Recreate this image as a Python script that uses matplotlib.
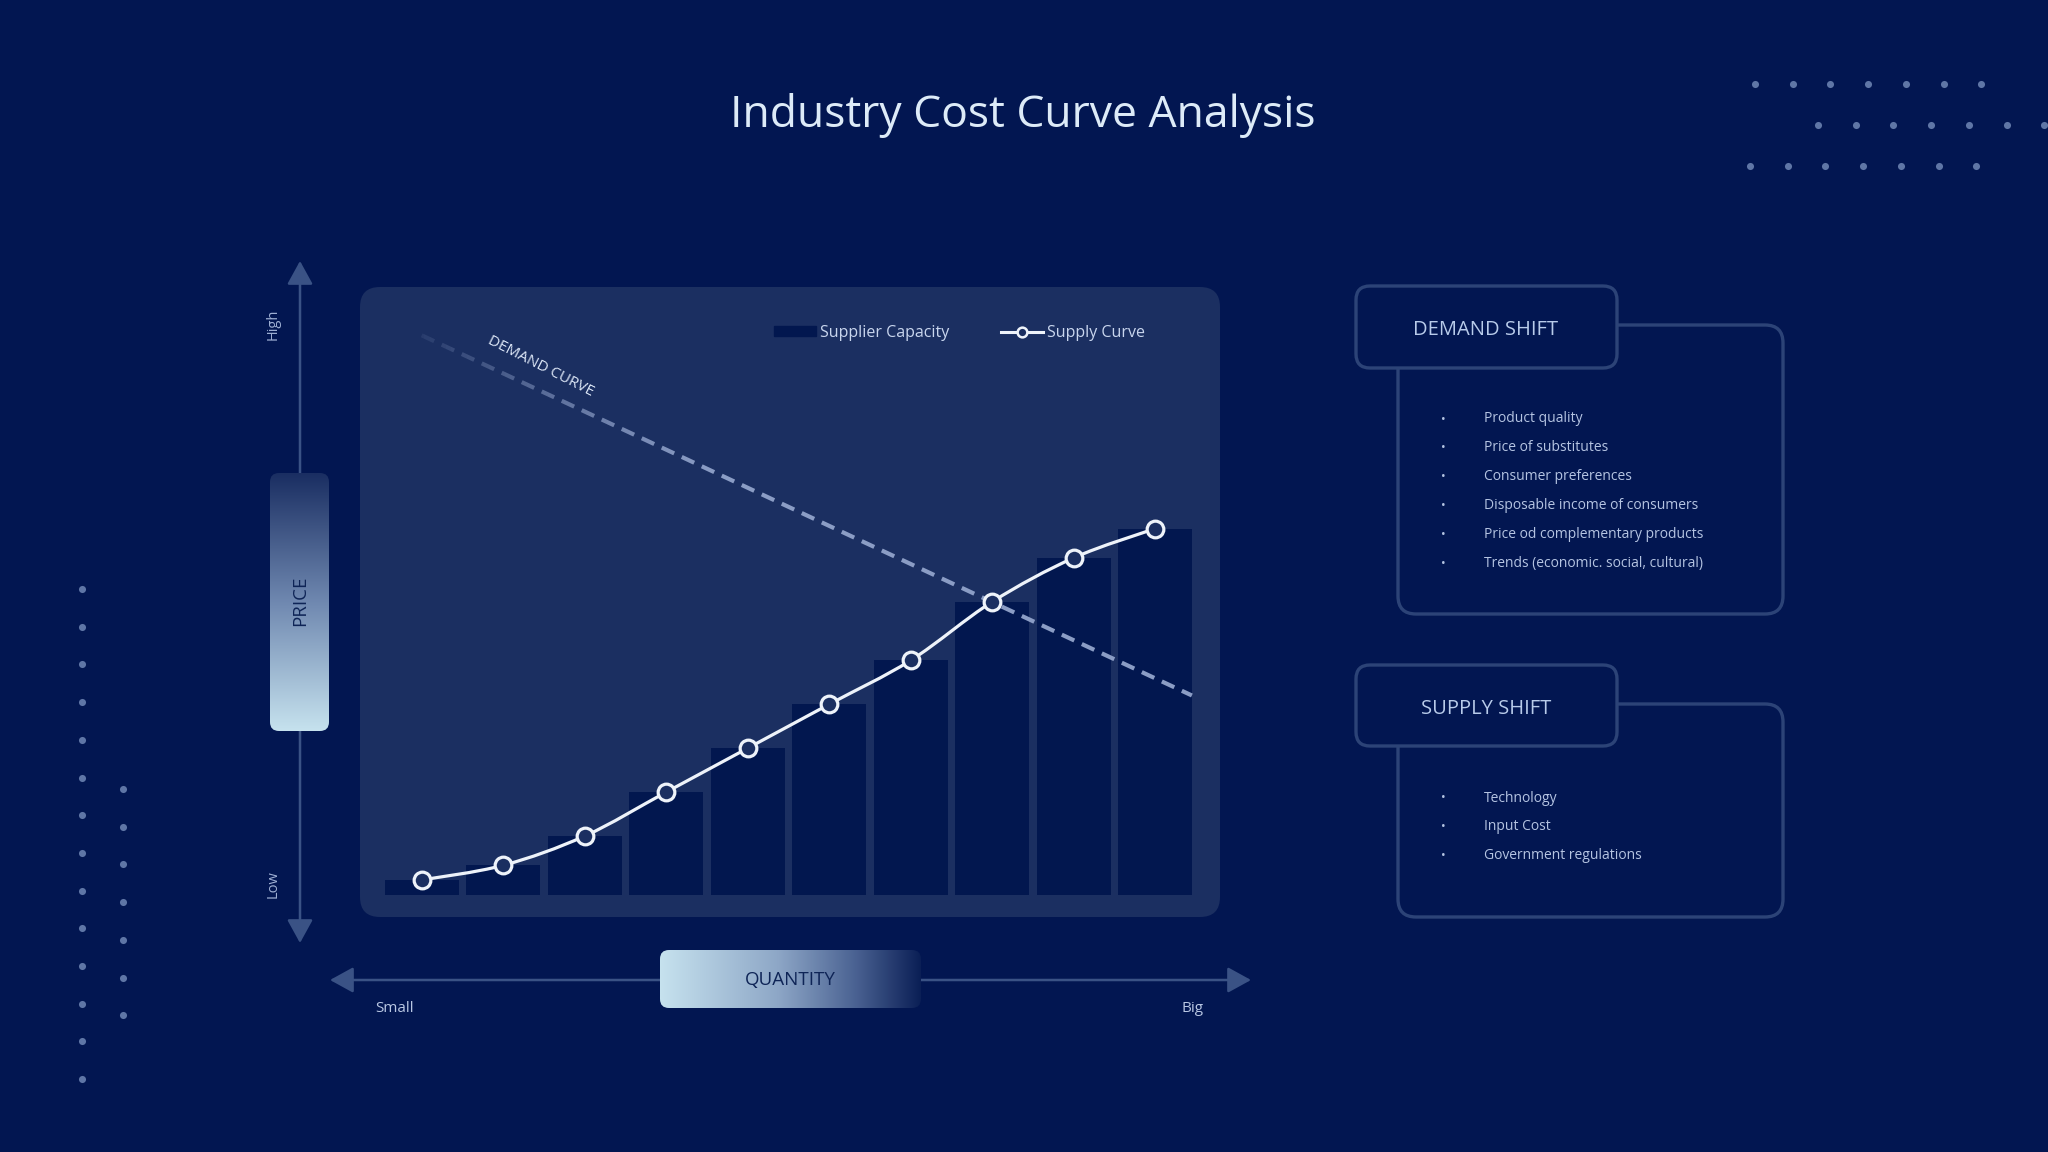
import numpy as np
import matplotlib
matplotlib.use("Agg")
import matplotlib.pyplot as plt
from matplotlib.patches import FancyBboxPatch, FancyArrowPatch, Patch, PathPatch, Rectangle
from matplotlib.lines import Line2D
from matplotlib.path import Path
from matplotlib.colors import LinearSegmentedColormap

plt.rcParams["font.family"] = ["Open Sans", "DejaVu Sans"]

# data
capacity = [1, 2, 4, 7, 10, 13, 16, 20, 23, 25]
supply = [1, 2, 4, 7, 10, 13, 16, 20, 23, 25]
demand_q = [0, 9.45]
demand_p = [38.2, 13.6]
demand_factors = ["Product quality", "Price of substitutes", "Consumer preferences",
                  "Disposable income of consumers", "Price od complementary products",
                  "Trends (economic. social, cultural)"]
supply_factors = ["Technology", "Input Cost", "Government regulations"]

BG = "#021651"
PANEL = "#1B2F61"
BAR = "#02174F"
LINE = "#EEF3FA"
DASH = "#8B9DC5"
EDGE = "#2C4377"
ARROW = "#3A5285"
DOT = "#5F76A6"
LIGHT = "#C6E2EE"
INK = "#0E2456"

W, H = 2048, 1152
fig = plt.figure(figsize=(W / 100, H / 100), dpi=100, facecolor=BG)

# full-figure axes in pixel coordinates for the decorations
bg = fig.add_axes([0, 0, 1, 1])
bg.set_facecolor(BG)
bg.axis("off")


def box(x0, y0, x1, y1, r, **kw):
    p = FancyBboxPatch((x0, y0), x1 - x0, y1 - y0,
                       boxstyle=f"round,pad=0,rounding_size={r}", **kw)
    bg.add_patch(p)
    return p


def gradient(x0, y0, x1, y1, r, stops, vertical):
    cmap = LinearSegmentedColormap.from_list("g", stops)
    ramp = np.linspace(0, 1, 256)
    img = ramp[:, None] if vertical else ramp[None, :]
    clip = box(x0, y0, x1, y1, r, fc="none", ec="none")
    im = bg.imshow(img, cmap=cmap, extent=(x0, x1, y1, y0), aspect="auto",
                   interpolation="bilinear", zorder=3)
    im.set_clip_path(clip)


# title
fig.text(1023 / W, 1 - 115 / H, "Industry Cost Curve Analysis", ha="center", va="center",
         fontsize=32, color="#DDEBF8")

# dot decorations
for x0, y0 in [(1755, 84), (1818, 125), (1750, 166)]:
    bg.scatter(x0 + 37.7 * np.arange(7), np.full(7, y0), s=26, color=DOT, lw=0)
bg.scatter(np.full(14, 82), 589 + 37.7 * np.arange(14), s=26, color=DOT, lw=0)
bg.scatter(np.full(7, 123), 789 + 37.7 * np.arange(7), s=26, color=DOT, lw=0)

# chart panel
box(360, 287, 1220, 917, 20, fc=PANEL, ec="none", zorder=1)

# price axis
bg.add_patch(FancyArrowPatch((300, 943), (300, 261), arrowstyle="<|-|>,head_length=0.4,head_width=0.22",
                             mutation_scale=36, color=ARROW, lw=1.8, shrinkA=0, shrinkB=0, zorder=2))
gradient(270, 473, 329, 731, 9, ["#1A2E62", "#6F88B0", LIGHT], vertical=True)
bg.text(300, 601, "PRICE", rotation=90, ha="center", va="center", fontsize=13.5,
        color=INK, zorder=4)
bg.text(273, 324, "High", rotation=90, ha="center", va="center", fontsize=10.5, color="#9FB0D4")
bg.text(273, 884, "Low", rotation=90, ha="center", va="center", fontsize=10.5, color="#9FB0D4")

# quantity axis
bg.add_patch(FancyArrowPatch((330, 980), (1251, 980), arrowstyle="<|-|>,head_length=0.4,head_width=0.22",
                             mutation_scale=36, color=ARROW, lw=1.8, shrinkA=0, shrinkB=0, zorder=2))
gradient(660, 950, 921, 1008, 9,
         [(0, LIGHT), (0.45, "#8EA7C7"), (0.75, "#4A6292"), (1, "#0B1F56")], vertical=False)
bg.text(790, 980, "QUANTITY", ha="center", va="center", fontsize=13.5, color=INK, zorder=4)
bg.text(395, 1009, "Small", ha="center", va="center", fontsize=11, color="#B9C7E3")
bg.text(1193, 1009, "Big", ha="center", va="center", fontsize=11, color="#B9C7E3")

bg.set_xlim(0, W)
bg.set_ylim(H, 0)

# shift boxes
for (top, bottom, hdr_bottom, title, items) in [(286, 614, 368, "DEMAND SHIFT", demand_factors),
                                               (665, 917, 746, "SUPPLY SHIFT", supply_factors)]:
    box(1398, top + 39, 1783, bottom, 18, fc="none", ec=EDGE, lw=2.4)
    box(1356, top, 1617, hdr_bottom, 14, fc=BG, ec=EDGE, lw=2.4)
    bg.text(1486, (top + hdr_bottom) / 2 + 3, title, ha="center", va="center",
            fontsize=14.5, color="#B8CBEA")
    y0 = top + 133
    for i, item in enumerate(items):
        bg.text(1443, y0 + 28.8 * i, "\u2022", ha="center", va="center", fontsize=9, color="#B5C4E2")
        bg.text(1484, y0 + 28.8 * i, item, ha="left", va="center", fontsize=10, color="#B5C4E2")

# the chart itself
ax = fig.add_axes([360 / W, 1 - 917 / H, 860 / W, 630 / H])
ax.patch.set_alpha(0)
ax.axis("off")
x = np.arange(len(capacity))
ax.bar(x, capacity, width=0.908, color=BAR, zorder=2)

# demand curve, faded at its start by panel-coloured strips
ax.plot(demand_q, demand_p, ls=(0, (3.3, 2)), color=DASH, lw=3, zorder=3)
edges = np.linspace(-0.3, 3.6, 60)
for k, (a, b) in enumerate(zip(edges[:-1], edges[1:])):
    ax.add_patch(Rectangle((a, 28.5), b - a, 12, fc=PANEL, ec="none", lw=0,
                           alpha=0.97 * (1 - k / (len(edges) - 1)) ** 1.3,
                           antialiased=False, zorder=3.5))
ax.text(1.46, 36.1, "DEMAND CURVE", rotation=-27, rotation_mode="anchor", ha="center",
        va="center", fontsize=11, color="#DCE6F6", zorder=6)

# smooth supply curve
pts = np.column_stack([x, supply]).astype(float)
verts, codes = [pts[0]], [Path.MOVETO]
n = len(pts)
for i in range(n - 1):
    p0, p1, p2, p3 = pts[max(i - 1, 0)], pts[i], pts[i + 1], pts[min(i + 2, n - 1)]
    verts += [p1 + (p2 - p0) / 6, p2 - (p3 - p1) / 6, p2]
    codes += [Path.CURVE4] * 3
ax.add_patch(PathPatch(Path(verts, codes), fill=False, ec=LINE, lw=2.3, zorder=4))
ax.plot(x, supply, ls="none", marker="o", ms=12, mfc=PANEL, mec=LINE, mew=2.3, zorder=5)

ax.set_xlim(-0.757, 9.795)
ax.set_ylim(-1.53, 41.5)

handles = [Patch(color=BAR, label="Supplier Capacity"),
           Line2D([], [], color=LINE, lw=2.2, marker="o", ms=7, mfc=PANEL, mec=LINE, mew=1.8,
                  label="Supply Curve")]
leg = ax.legend(handles=handles, ncol=2, loc="center left", frameon=False,
                bbox_to_anchor=(774 / W, 1 - 333 / H), bbox_transform=fig.transFigure,
                fontsize=11.5, handlelength=2.65, handleheight=0.6, handletextpad=0.25,
                columnspacing=3.2, borderpad=0, borderaxespad=0)
for t in leg.get_texts():
    t.set_color("#C9D6EE")

fig.savefig("out.png", dpi=100, facecolor=BG)
